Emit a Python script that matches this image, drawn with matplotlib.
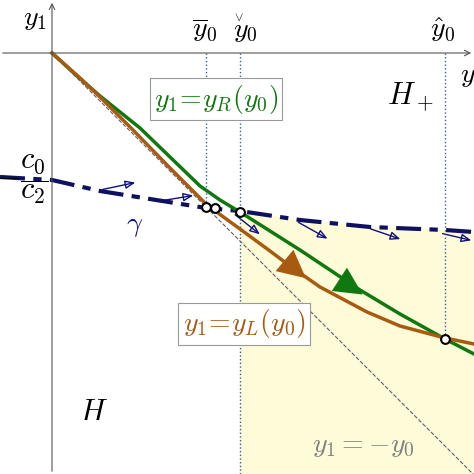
import matplotlib
matplotlib.use("Agg")
from matplotlib import pyplot as plt
from matplotlib.patches import FancyArrowPatch
import numpy as np

plt.rcParams['mathtext.fontset'] = 'cm'

# curves (pixel-like coordinates, y downwards)
green_x = [52, 76, 100, 140, 170, 200, 220, 240, 270, 300, 330, 360, 400, 445, 474]
green_y = [53, 75, 96, 128, 157, 186, 200, 212, 231, 250, 270, 290, 314, 339, 354]
brown_x = [52, 80, 100, 133, 170, 207, 240, 270, 290, 320, 367, 400, 445, 474]
brown_y = [53, 78, 97, 130, 168, 205, 229, 251, 266, 287, 312, 326, 338, 344]
gamma_x = [0, 52, 100, 150, 206, 240, 300, 370, 445, 474]
gamma_y = [177, 180, 191, 199, 208, 211, 220, 227, 230, 232]
diag_x = [52, 474]
diag_y = [53, 475]
marks_x = [206, 215, 240, 445]
marks_y = [207, 208, 212, 339]
vlines_x = [206, 240, 445]
vlines_bottom = [207, 474, 339]
flow_arrows = [((100, 190), (138, 182)), ((160, 201), (196, 195)),
               ((233, 213), (262, 236)), ((296, 221), (330, 240)),
               ((368, 228), (403, 240)), ((440, 233), (474, 241))]

fig = plt.figure(figsize=(4.74, 4.74), dpi=100)
ax = fig.add_axes([0, 0, 1, 1])
ax.set_xlim(0, 474)
ax.set_ylim(474, 0)
ax.axis('off')

# shaded region right of y-check under gamma
gx = np.linspace(240, 474, 50)
ax.fill_between(gx, np.interp(gx, gamma_x, gamma_y), 474, color='#fdfbd8', zorder=0)

# axes
ax.annotate('', xy=(474, 53), xytext=(0, 53),
            arrowprops=dict(arrowstyle='->', color='#555555', lw=0.8))
ax.annotate('', xy=(52, 0), xytext=(52, 474),
            arrowprops=dict(arrowstyle='->', color='#555555', lw=0.8))

for vx, vb in zip(vlines_x, vlines_bottom):
    ax.plot([vx, vx], [53, vb], ls=':', color='#3060a0', lw=1)

ax.plot(diag_x, diag_y, ls='--', color='#606070', lw=0.8)
ax.plot(gamma_x, gamma_y, ls='-.', color='#101060', lw=3, dashes=(6, 2, 2, 2))
ax.plot(green_x, green_y, color='#107810', lw=2.5, solid_joinstyle='round')
ax.plot(brown_x, brown_y, color='#a85a10', lw=2.5, solid_joinstyle='round')

for (x0, y0), (x1, y1) in flow_arrows:
    ax.add_patch(FancyArrowPatch((x0, y0), (x1, y1), arrowstyle='-|>,head_length=6,head_width=2.5',
                                 color='#101080', lw=1, fill=False))

# direction heads on curves
ax.annotate('', xy=(308, 280), xytext=(290, 265),
            arrowprops=dict(arrowstyle='-|>,head_length=2.0,head_width=1.0', color='#a85a10', lw=0))
ax.annotate('', xy=(365, 296), xytext=(345, 283),
            arrowprops=dict(arrowstyle='-|>,head_length=2.0,head_width=1.0', color='#107810', lw=0))

ax.scatter(marks_x, marks_y, s=40, facecolor='white', edgecolor='black', lw=1.5, zorder=5)

ax.text(35, 18, r'$y_1$', fontsize=20, ha='center', va='center')
ax.text(205, 30, r'$\overline{y}_0$', fontsize=20, ha='center', va='center')
ax.text(245, 30, r'$y_0$', fontsize=20, ha='center', va='center')
ax.text(239, 17, r'$\vee$', fontsize=9, ha='center', va='center')
ax.text(443, 30, r'$\hat{y}_0$', fontsize=20, ha='center', va='center')
ax.text(460, 75, r'$y$', fontsize=20, ha='left', va='center')
ax.text(410, 97, r'$H_+$', fontsize=22, ha='center', va='center')
ax.text(100, 408, r'$H_{-}$', fontsize=22, ha='center', va='center')
ax.text(-3, 180, r'$-\dfrac{c_0}{c_2}$', fontsize=22, ha='left', va='center')
ax.text(135, 225, r'$\gamma$', fontsize=20, ha='center', va='center', color='#101080')
ax.text(363, 445, r'$y_1 = -y_0$', fontsize=20, ha='center', va='center', color='#808080')
ax.text(216, 99, r'$y_1\!=\!y_R(y_0)$', fontsize=20, ha='center', va='center', color='#107810',
        bbox=dict(boxstyle='square,pad=0.15', fc='white', ec='#999999', lw=0.8))
ax.text(244, 324, r'$y_1\!=\!y_L(y_0)$', fontsize=20, ha='center', va='center', color='#a85a10',
        bbox=dict(boxstyle='square,pad=0.15', fc='white', ec='#999999', lw=0.8))

fig.savefig('out.png', dpi=100)
